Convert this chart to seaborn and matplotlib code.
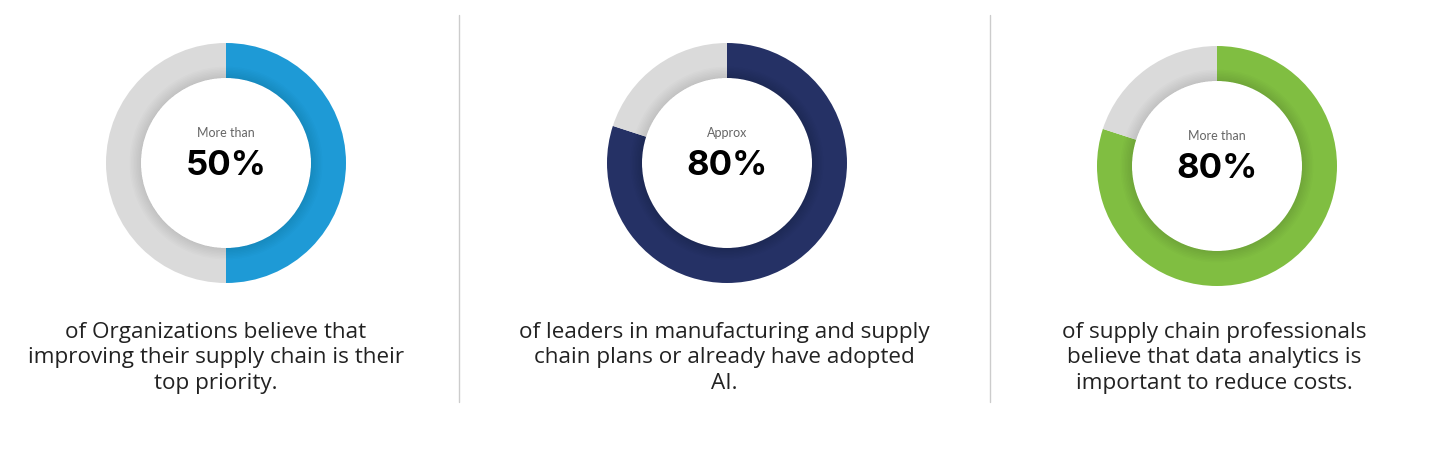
import matplotlib
matplotlib.use("Agg")
import matplotlib.pyplot as plt
import seaborn as sns

# data
values = [50, 80, 80]
prefixes = ["More than", "Approx", "More than"]
colors = ["#1E9AD6", "#253165", "#80BE41"]
rest_color = "#DADADA"
captions = [
    "of Organizations believe that\nimproving their supply chain is their\ntop priority.",
    "of leaders in manufacturing and supply\nchain plans or already have adopted\nAI.",
    "of supply chain professionals\nbelieve that data analytics is\nimportant to reduce costs.",
]

sns.set_theme(style="white")
plt.rcParams['font.family'] = ['Open Sans', 'DejaVu Sans']

W, H = 1440, 450
fig = plt.figure(figsize=(14.4, 4.5), dpi=100)
ax = fig.add_axes([0, 0, 1, 1])

centers = [(226, 163), (727, 163), (1217, 166)]
cap_x = [216, 724, 1214]
r_out, ring = 120, 35

for i in range(3):
    cx, cy = centers[i]
    v = values[i]
    ax.pie([v, 100 - v], colors=[colors[i], rest_color], startangle=90,
           counterclock=False, radius=r_out, center=(cx, H - cy),
           wedgeprops=dict(width=ring, linewidth=0))
    # soft inner shadow on the ring
    for k in range(8):
        ax.pie([1], colors=["black"], radius=r_out - ring + 1 + k * 1.5,
               center=(cx, H - cy),
               wedgeprops=dict(width=1 + k * 1.5, linewidth=0, alpha=0.012))
    ax.text(cx, H - cy + 30, prefixes[i], ha="center", va="center",
            fontsize=9, color="#666666", family=['Lato', 'DejaVu Sans'])
    ax.text(cx, H - cy - 3, f"{v}%", ha="center", va="center",
            fontsize=25, fontweight="bold", color="black",
            family=['Inter', 'DejaVu Sans'])
    ax.text(cap_x[i], H - 358, captions[i], ha="center", va="center",
            fontsize=16.2, color="#222222", linespacing=1.3)

for x in [459, 990]:
    ax.plot([x, x], [H - 15, H - 402], color="#CCCCCC", linewidth=1)

ax.set_xlim(0, W)
ax.set_ylim(0, H)
ax.set_aspect("equal")
ax.axis("off")

fig.savefig("out.png", dpi=100, facecolor="white")
